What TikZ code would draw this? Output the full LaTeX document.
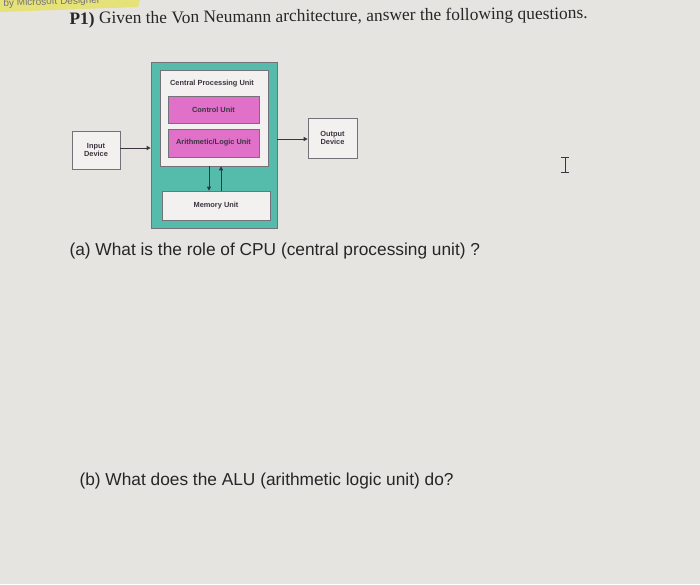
\documentclass[tikz,border=0pt]{standalone}
\usepackage{fontspec}
\setmainfont{Liberation Serif}
\setsansfont{Liberation Sans}
\usetikzlibrary{arrows.meta}
\definecolor{bgc}{HTML}{E6E4E1}
\definecolor{tealc}{HTML}{55BBAA}
\definecolor{pinkc}{HTML}{E070C8}
\definecolor{inkc}{HTML}{3A3440}
\definecolor{boxw}{HTML}{F2F1EF}
\definecolor{hilite}{HTML}{E6E27A}
\tikzset{
  lbl/.style={font=\sffamily\bfseries\fontsize{7.4}{8.4}\selectfont, text=inkc, align=center},
  plainbox/.style={draw=inkc!70, line width=0.6pt, fill=boxw},
  pinkbox/.style={draw=inkc!70, line width=0.6pt, fill=pinkc},
  conn/.style={draw=inkc, line width=0.8pt, -{Triangle[length=4pt,width=4pt]}},
  qtext/.style={font=\sffamily\fontsize{17.3}{20}\selectfont, text=black!85, anchor=west},
}
\begin{document}
\begin{tikzpicture}[x=1pt,y=-1pt]
\useasboundingbox (0,0) rectangle (700,584);
\fill[bgc] (0,0) rectangle (700,584);
% top-left highlight fragment
\begin{scope}
\clip (0,0) -- (140,0) -- (138,7) -- (0,12) -- cycle;
\fill[hilite] (0,0) rectangle (140,12);
\node[anchor=west, font=\sffamily\fontsize{10}{11}\selectfont, text=inkc!70, rotate=2] (hl) at (0,4) {by Microsoft Designer};
\end{scope}
% title
\node[anchor=west, font=\fontsize{17.4}{20}\selectfont, text=black!85, rotate=0.6] (title) at (66,20) {\textbf{P1)} Given the Von Neumann architecture, answer the following questions.};
% CPU outer teal
\node[draw=inkc!70, line width=0.6pt, fill=tealc, minimum width=126pt, minimum height=166pt, inner sep=0pt] (teal) at (214,145) {};
\node[plainbox, minimum width=108pt, minimum height=96pt, inner sep=0pt] (cpu) at (214,118) {};
\node[lbl] (cputxt) at (212,84) {Central Processing Unit};
\node[pinkbox, lbl, minimum width=91pt, minimum height=27pt, inner sep=0pt] (cu) at (213.5,109.5) {Control Unit};
\node[pinkbox, lbl, minimum width=91pt, minimum height=28pt, inner sep=0pt] (alu) at (213.5,143) {Arithmetic/Logic Unit};
\node[plainbox, lbl, minimum width=108pt, minimum height=29pt, inner sep=0pt] (mem) at (216,205.5) {Memory Unit};
\node[plainbox, lbl, minimum width=48pt, minimum height=38pt, inner sep=0pt] (in) at (96,150) {Input\\Device};
\node[plainbox, lbl, minimum width=49pt, minimum height=40pt, inner sep=0pt] (out) at (332.5,138) {Output\\Device};
% connectors
\draw[conn] (in.east |- 0,148) -- (teal.west |- 0,148);
\draw[conn] (teal.east |- 0,139) -- (out.west |- 0,139);
\draw[conn] (cpu.south -| 209,0) -- (mem.north -| 209,0);
\draw[conn] (mem.north -| 221,0) -- (cpu.south -| 221,0);
% questions
\node[qtext] (qa) at (66,251) {(a) What is the role of CPU (central processing unit) ?};
\node[qtext] (qb) at (76,481) {(b) What does the ALU (arithmetic logic unit) do?};
% text cursor
\draw[inkc, line width=0.8pt] (565,157) -- (565,172) (561,157) -- (569,157) (561,172) -- (569,172);
\end{tikzpicture}
\end{document}
